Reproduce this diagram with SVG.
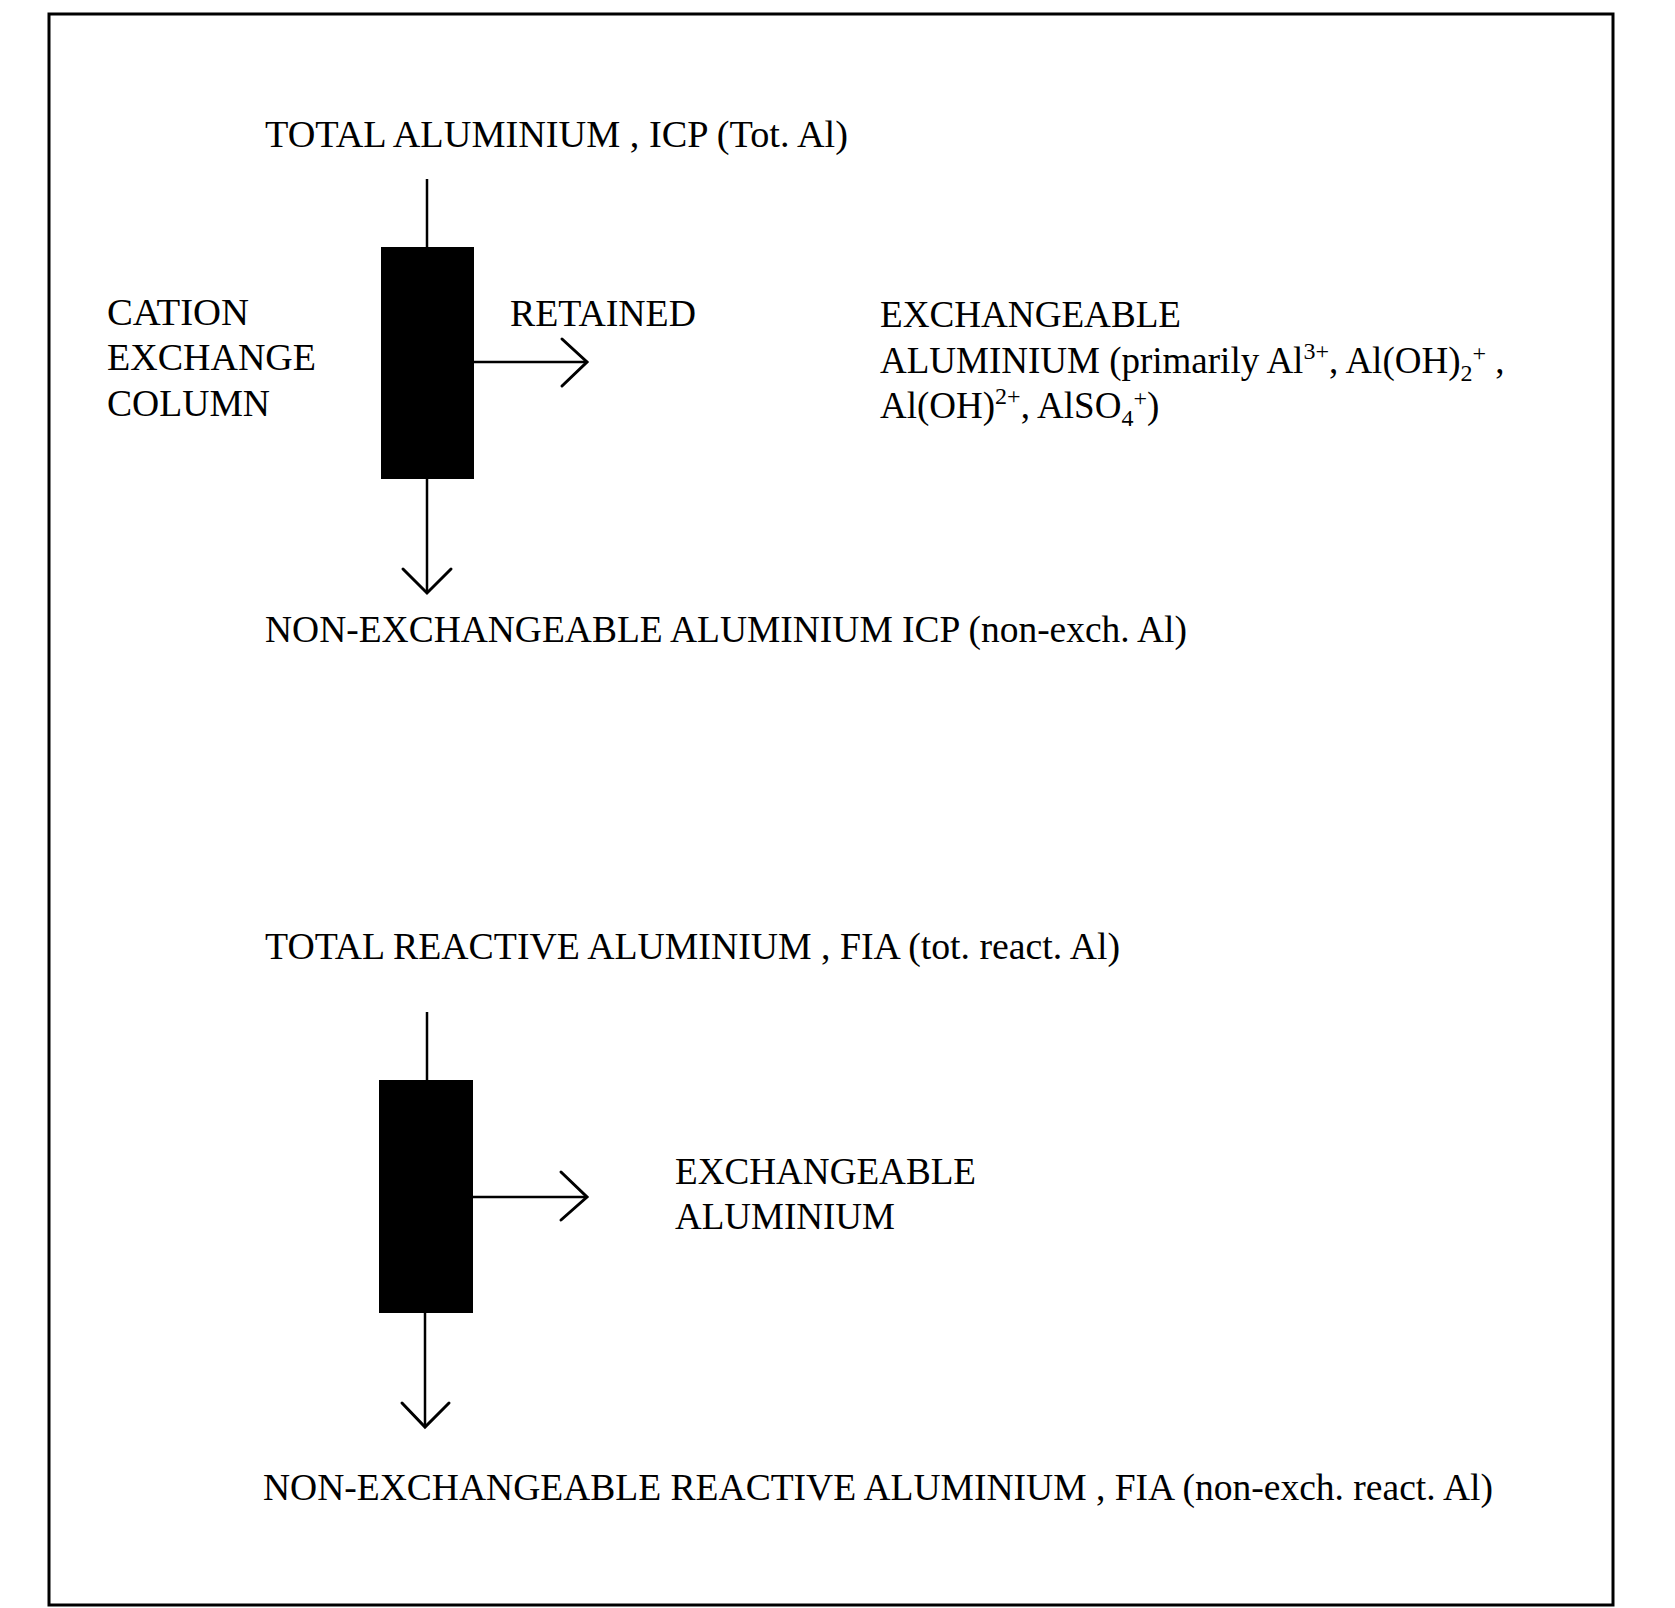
<svg xmlns="http://www.w3.org/2000/svg" width="1675" height="1608" viewBox="0 0 1675 1608">
<style>
text{font-family:"Liberation Serif","Times New Roman",serif;font-size:37px;fill:#000}
.sup{font-size:24px}
.ln{stroke:#000;stroke-width:2.5;fill:none}
.hd{stroke:#000;stroke-width:3;fill:none;stroke-linecap:round;stroke-linejoin:miter}
.col{fill:#000}
</style>
<rect x="0" y="0" width="1675" height="1608" fill="#fff"/>
<rect x="49" y="14" width="1564" height="1591" fill="none" stroke="#000" stroke-width="3"/>
<g id="top-section">
<g id="n-total-al"><text x="265" y="147" textLength="583" lengthAdjust="spacingAndGlyphs">TOTAL ALUMINIUM , ICP (Tot. Al)</text></g>
<g id="n-column1"><rect class="col" x="381" y="247" width="93" height="232"/></g>
<g id="n-cation-label">
<text x="107" y="325" textLength="142" lengthAdjust="spacingAndGlyphs">CATION</text>
<text x="107" y="370" textLength="209" lengthAdjust="spacingAndGlyphs">EXCHANGE</text>
<text x="107" y="416" textLength="163" lengthAdjust="spacingAndGlyphs">COLUMN</text>
</g>
<g id="n-retained"><text x="510" y="326" textLength="186" lengthAdjust="spacingAndGlyphs">RETAINED</text></g>
<g id="n-exch-al1">
<text x="880" y="327" textLength="301" lengthAdjust="spacingAndGlyphs">EXCHANGEABLE</text>
<text x="880" y="373">ALUMINIUM (primarily Al<tspan class="sup" dy="-14">3+</tspan><tspan dy="14">, Al(OH)</tspan><tspan class="sup" dy="8">2</tspan><tspan class="sup" dy="-20">+</tspan><tspan dy="12"> ,</tspan></text>
<text x="880" y="418">Al(OH)<tspan class="sup" dy="-14">2+</tspan><tspan dy="14">, AlSO</tspan><tspan class="sup" dy="8">4</tspan><tspan class="sup" dy="-20">+</tspan><tspan dy="12">)</tspan></text>
</g>
<g id="n-nonexch-al"><text x="265" y="642" textLength="922" lengthAdjust="spacingAndGlyphs">NON-EXCHANGEABLE ALUMINIUM ICP (non-exch. Al)</text></g>
</g>
<g id="bottom-section">
<g id="n-total-react"><text x="265" y="959" textLength="855" lengthAdjust="spacingAndGlyphs">TOTAL REACTIVE ALUMINIUM , FIA (tot. react. Al)</text></g>
<g id="n-column2"><rect class="col" x="379" y="1080" width="94" height="233"/></g>
<g id="n-exch-al2">
<text x="675" y="1184" textLength="301" lengthAdjust="spacingAndGlyphs">EXCHANGEABLE</text>
<text x="675" y="1229">ALUMINIUM</text>
</g>
<g id="n-nonexch-react"><text x="263" y="1500" textLength="1230" lengthAdjust="spacingAndGlyphs">NON-EXCHANGEABLE REACTIVE ALUMINIUM , FIA (non-exch. react. Al)</text></g>
</g>
<g id="connectors">
<line class="ln" x1="427" y1="179" x2="427" y2="247"/>
<line class="ln" x1="427" y1="479" x2="427" y2="592"/>
<polyline class="hd" points="403,569 427,593 451,569"/>
<line class="ln" x1="474" y1="362" x2="586" y2="362"/>
<polyline class="hd" points="562,339 587,362 562,386"/>
<line class="ln" x1="427" y1="1012" x2="427" y2="1080"/>
<line class="ln" x1="425" y1="1313" x2="425" y2="1426"/>
<polyline class="hd" points="402,1403 425,1427 449,1403"/>
<line class="ln" x1="473" y1="1197" x2="586" y2="1197"/>
<polyline class="hd" points="561,1172 587,1197 561,1220"/>
</g>
</svg>
